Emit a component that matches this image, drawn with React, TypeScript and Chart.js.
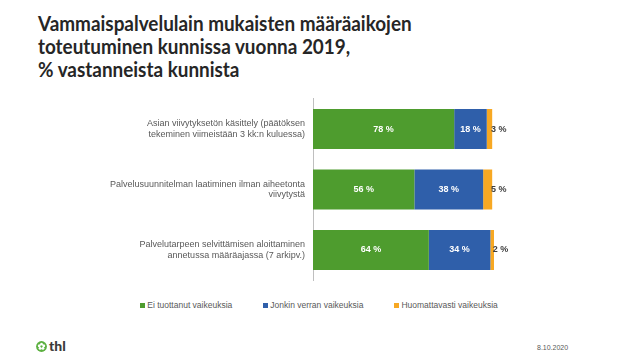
import React, { useEffect, useRef } from "react";
import { Chart, registerables } from "chart.js";

Chart.register(...registerables);

const categories: string[][] = [
  ["Asian viivytyksetön käsittely (päätöksen", "tekeminen viimeistään 3 kk:n kuluessa)"],
  ["Palvelusuunnitelman laatiminen ilman aiheetonta", "viivytystä"],
  ["Palvelutarpeen selvittämisen aloittaminen", "annetussa määräajassa (7 arkipv.)"],
];
const seriesNames = ["Ei tuottanut vaikeuksia", "Jonkin verran vaikeuksia", "Huomattavasti vaikeuksia"];
const noDifficulty = [78, 56, 64];
const someDifficulty = [18, 38, 34];
const majorDifficulty = [3, 5, 2];
const seriesColors = ["#4e9c2e", "#2f5faa", "#f7a823"];
const titleLines = [
  "Vammaispalvelulain mukaisten määräaikojen",
  "toteutuminen kunnissa vuonna 2019,",
  "% vastanneista kunnista",
];
const dateText = "8.10.2020";

const FONT = "'Liberation Sans', Arial, sans-serif";

const labelPlugin = {
  id: "valueLabels",
  afterDatasetsDraw(chart: any) {
    const ctx = chart.ctx;
    ctx.save();
    ctx.font = `bold 9px ${FONT}`;
    ctx.textBaseline = "middle";
    chart.data.datasets.forEach((ds: any, di: number) => {
      const meta = chart.getDatasetMeta(di);
      meta.data.forEach((bar: any, i: number) => {
        const text = `${ds.data[i]} %`;
        if (di < 2) {
          ctx.fillStyle = "#ffffff";
          ctx.textAlign = "center";
          ctx.fillText(text, (bar.x + bar.base) / 2, bar.y);
        } else {
          ctx.fillStyle = "#404040";
          ctx.textAlign = "center";
          ctx.fillText(text, bar.x + 6.5, bar.y);
        }
      });
    });
    ctx.restore();
  },
};

function ThlLogo() {
  const petals = [0, 72, 144, 216, 288];
  return (
    <svg width="11" height="11" viewBox="-5.5 -5.5 11 11" style={{ display: "block" }}>
      <circle cx="0" cy="0" r="5.4" fill="#5cb040" />
      {petals.map((a) => (
        <circle
          key={a}
          cx={2.3 * Math.sin((a * Math.PI) / 180)}
          cy={-2.3 * Math.cos((a * Math.PI) / 180)}
          r="1.5"
          fill="#ffffff"
        />
      ))}
      <circle cx="0" cy="0" r="1" fill="#5cb040" />
    </svg>
  );
}

export default function App() {
  const canvasRef = useRef<HTMLCanvasElement | null>(null);

  useEffect(() => {
    if (!canvasRef.current) return;
    const datasets = [noDifficulty, someDifficulty, majorDifficulty].map((d, i) => ({
      label: seriesNames[i],
      data: d,
      backgroundColor: seriesColors[i],
      borderWidth: 0,
      barPercentage: 0.66,
      categoryPercentage: 1,
    }));
    const chart = new Chart(canvasRef.current, {
      type: "bar",
      data: { labels: categories, datasets },
      options: {
        indexAxis: "y",
        animation: false,
        responsive: false,
        maintainAspectRatio: false,
        layout: { padding: { top: 8.5, bottom: 8.5, left: 0, right: 144 } },
        plugins: { legend: { display: false }, tooltip: { enabled: false } },
        scales: {
          x: { stacked: true, min: 0, max: 100, display: false },
          y: {
            stacked: true,
            grid: { display: false, drawTicks: false },
            border: { display: true, color: "#bfbfbf", width: 1 },
            ticks: {
              color: "#595959",
              font: { family: FONT, size: 9 },
              padding: 8,
            },
            afterFit: (s: any) => {
              s.width = 313;
            },
          },
        },
      },
      plugins: [labelPlugin],
    });
    return () => chart.destroy();
  }, []);

  return (
    <div
      style={{
        position: "fixed",
        left: 0,
        top: 0,
        width: 638,
        height: 359,
        background: "#ffffff",
        overflow: "hidden",
      }}
    >
      <div
        style={{
          position: "absolute",
          left: 38,
          top: 11,
          fontFamily: "Lato, 'Open Sans', sans-serif",
          fontWeight: 700,
          fontSize: 21,
          lineHeight: "23px",
          color: "#262626",
          whiteSpace: "nowrap",
          transform: "scaleX(0.9)",
          transformOrigin: "0 0",
        }}
      >
        {titleLines.map((l) => (
          <div key={l}>{l}</div>
        ))}
      </div>
      <canvas
        ref={canvasRef}
        width={638}
        height={219}
        style={{ position: "absolute", left: 0, top: 80, width: 638, height: 219 }}
      />
      <div
        style={{
          position: "absolute",
          left: 0,
          top: 299,
          width: 638,
          display: "flex",
          justifyContent: "center",
          fontFamily: FONT,
          fontSize: 8.5,
          color: "#595959",
          lineHeight: "12px",
        }}
      >
        {seriesNames.map((n, i) => (
          <div key={n} style={{ display: "flex", alignItems: "center", margin: "0 15.5px" }}>
            <span
              style={{ width: 5, height: 5, background: seriesColors[i], marginRight: 2, display: "inline-block" }}
            />
            <span>{n}</span>
          </div>
        ))}
      </div>
      <div style={{ position: "absolute", left: 36, top: 340, display: "flex", alignItems: "center" }}>
        <ThlLogo />
        <span
          style={{
            marginLeft: 2,
            fontFamily: "Lato, sans-serif",
            fontWeight: 900,
            fontSize: 14,
            color: "#3a3a3a",
            lineHeight: "12px",
          }}
        >
          thl
        </span>
      </div>
      <div
        style={{
          position: "absolute",
          left: 537,
          top: 344,
          fontFamily: FONT,
          fontSize: 7,
          color: "#595959",
        }}
      >
        {dateText}
      </div>
    </div>
  );
}
